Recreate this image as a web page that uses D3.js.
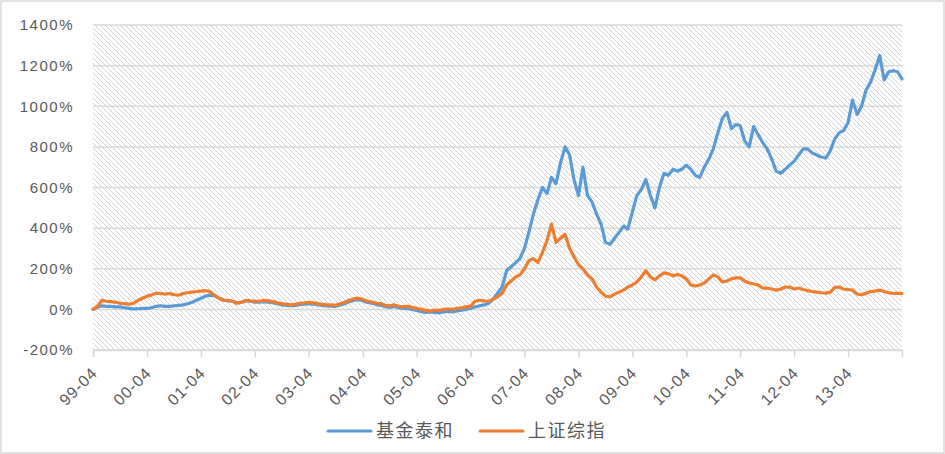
<!DOCTYPE html>
<html>
<head>
  <meta charset="utf-8">
  <title>基金泰和 vs 上证综指</title>
  <script src="https://cdn.jsdelivr.net/npm/d3@7"></script>
  <style>
    body { margin: 0; background: #fff; }
    text { font-family: "Liberation Sans", Arial, "Noto Sans CJK SC", sans-serif; fill: #595959; }
  </style>
</head>
<body>
<script type="text/javascript">
// monthly cumulative returns (%) starting 1999-04
var firstMonth = new Date(1999, 3, 1);
var seriesNames = ["基金泰和", "上证综指"];
var seriesColors = ["#5B9BD5", "#ED7D31"];

var fundValues = [
  0, 10, 18, 15, 15, 12, 12, 8, 5, 2,
  3, 5, 5, 8, 15, 18, 15, 15, 18, 20,
  22, 28, 35, 45, 55, 65, 70, 68, 55, 45,
  42, 40, 32, 35, 42, 40,
  35, 35, 38, 36, 33, 28, 22, 20, 18, 20,
  24, 26, 28, 26, 22, 20, 17, 16, 15, 22,
  28, 38, 45, 48, 44, 34, 30, 24, 20, 13,
  10, 14, 8, 5, 4, 0, -5, -10, -15, -12,
  -15, -18, -12, -10, -12, -8, -4, 0, 5,
  12, 18, 22, 30, 50,
  80, 110, 190, 210, 230, 250, 300, 380, 470, 540,
  600, 570, 650, 620, 720, 800, 760, 640, 560, 700,
  560, 530, 470, 420, 330, 320, 350, 380, 410, 395,
  480, 560, 590, 640, 560, 500, 600, 670, 660, 690,
  680, 690, 710, 690, 660, 650, 700, 740, 790, 870,
  940, 970, 890, 910, 905, 830, 800, 900, 860, 820,
  790, 740, 680, 670, 690, 710, 730, 760, 790, 790,
  770, 760, 750, 745, 780, 840, 870, 880, 920, 1030,
  960, 1000, 1080, 1120, 1180, 1250, 1130, 1170, 1175, 1170, 1135
];

var indexValues = [
  0, 15, 45, 40, 38, 35, 30, 28, 25, 30,
  45, 55, 65, 70, 80, 78, 75, 78, 72, 70,
  78, 82, 85, 88, 90, 92, 88, 70, 55, 45,
  45, 40, 30, 35, 45, 42, 40, 40, 45, 42,
  38, 32, 28, 25, 22, 25, 30, 32, 35, 32,
  28, 25, 22, 22, 20, 28, 35, 45, 52, 55,
  50, 40, 37, 30, 28, 20, 18, 22, 15, 12,
  15, 10, 5, 0, -5, -8, -3, -5, 0, 2,
  0, 5, 8, 12, 15, 40, 45, 42, 40, 50,
  62, 80, 120, 140, 160, 170, 200, 240, 250, 230,
  280, 340, 420, 330, 350, 370, 300, 260, 220, 200,
  170, 150, 110, 85, 65, 62, 75, 85, 95, 110,
  120, 135, 160, 190, 160, 145, 165, 180, 175, 165,
  172, 165, 150, 120, 115, 120, 130, 150, 170, 160,
  135, 140, 150, 155, 155, 140, 130, 125, 120, 105,
  105, 100, 95, 100, 110, 110, 100, 105, 98, 92,
  88, 85, 82, 80, 85, 108, 110, 100, 98, 95,
  75, 72, 80, 88, 90, 95, 88, 82, 78, 80, 78
];

var yTicks = [-200, 0, 200, 400, 600, 800, 1000, 1200, 1400];
var xTickYears = d3.range(1999, 2014);

var width = 945, height = 454;
var plotLeft = 93, plotRight = 902, plotTop = 25, plotBottom = 350;

var dates = fundValues.map(function(d, i) { return d3.timeMonth.offset(firstMonth, i); });

var svg = d3.select("body").append("svg")
  .attr("width", width)
  .attr("height", height);

// outer frame
svg.append("rect")
  .attr("x", 1).attr("y", 1)
  .attr("width", width - 2).attr("height", height - 2)
  .attr("fill", "#fff")
  .attr("stroke", "#d9d9d9")
  .attr("stroke-width", 1.5);

// hatch pattern for plot background
var pat = svg.append("defs").append("pattern")
  .attr("id", "hatch")
  .attr("patternUnits", "userSpaceOnUse")
  .attr("width", 5).attr("height", 5);
pat.append("path")
  .attr("d", "M-1,-1 L6,6 M-1,4 L1,6 M4,-1 L6,1")
  .attr("stroke", "#d4d4d4")
  .attr("stroke-width", 1);

var x = d3.scaleTime()
  .domain([dates[0], dates[dates.length - 1]])
  .range([plotLeft, plotRight]);

var y = d3.scaleLinear()
  .domain([-200, 1400])
  .range([plotBottom, plotTop]);

svg.append("rect")
  .attr("x", plotLeft).attr("y", plotTop)
  .attr("width", plotRight - plotLeft).attr("height", plotBottom - plotTop)
  .attr("fill", "url(#hatch)");

// horizontal gridlines
svg.append("g").selectAll("line")
  .data(yTicks)
  .enter().append("line")
  .attr("x1", plotLeft).attr("x2", plotRight)
  .attr("y1", function(d) { return y(d); })
  .attr("y2", function(d) { return y(d); })
  .attr("stroke", "#d9d9d9")
  .attr("stroke-width", 1.5);

// y labels
svg.append("g").selectAll("text")
  .data(yTicks)
  .enter().append("text")
  .attr("x", 74)
  .attr("y", function(d) { return y(d); })
  .attr("dy", "0.35em")
  .attr("text-anchor", "end")
  .attr("font-size", 15)
  .attr("letter-spacing", 1.5)
  .text(function(d) { return d + "%"; });

// x axis
var xTicks = xTickYears.map(function(yr) { return new Date(yr, 3, 1); });
var xAxis = d3.axisBottom(x)
  .tickValues(xTicks)
  .tickSize(7)
  .tickFormat(d3.timeFormat("%y-%m"));

var gx = svg.append("g")
  .attr("transform", "translate(0," + plotBottom + ")")
  .call(xAxis);
gx.select(".domain").attr("stroke", "#d9d9d9").attr("stroke-width", 1.5);
gx.selectAll(".tick line").attr("stroke", "#d9d9d9").attr("stroke-width", 1.5);
gx.selectAll(".tick text")
  .attr("font-size", 16)
  .attr("letter-spacing", 1)
  .attr("font-family", "Liberation Sans, Arial, sans-serif")
  .attr("fill", "#595959")
  .attr("text-anchor", "end")
  .attr("dy", null)
  .attr("y", 0)
  .attr("transform", "translate(5,24) rotate(-45)");

// lines
var line = d3.line()
  .x(function(d) { return x(d.date); })
  .y(function(d) { return y(d.value); });

[fundValues, indexValues].forEach(function(vals, k) {
  var pts = vals.map(function(v, i) { return { date: dates[i], value: v }; });
  svg.append("path")
    .attr("d", line(pts))
    .attr("fill", "none")
    .attr("stroke", seriesColors[k])
    .attr("stroke-width", 3.2)
    .attr("stroke-linejoin", "round")
    .attr("stroke-linecap", "round");
});

// legend
var legendX = [328, 480];
var legend = svg.append("g").selectAll("g")
  .data(seriesNames)
  .enter().append("g")
  .attr("transform", function(d, i) { return "translate(" + legendX[i] + ",431)"; });
legend.append("line")
  .attr("x1", 0).attr("x2", 43)
  .attr("stroke", function(d, i) { return seriesColors[i]; })
  .attr("stroke-width", 3)
  .attr("stroke-linecap", "round");
legend.append("text")
  .attr("x", 48)
  .attr("dy", "0.35em")
  .attr("font-size", 18)
  .attr("letter-spacing", 1.5)
  .attr("font-family", "Noto Sans CJK SC, sans-serif")
  .text(function(d) { return d; });
</script>
</body>
</html>
